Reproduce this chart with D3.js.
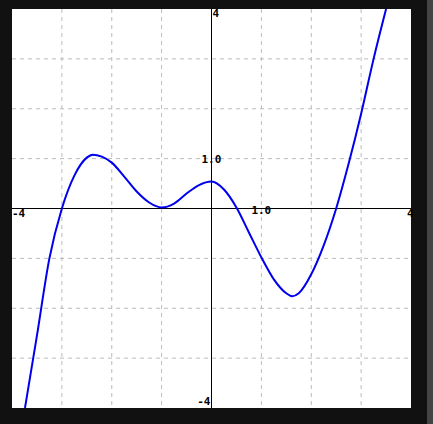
<!DOCTYPE html><html><head><script src="https://cdn.jsdelivr.net/npm/d3@7"></script>
<style>body{margin:0;background:#111}</style></head><body><svg id="c" width="433" height="424"></svg>
<script>
const xs=[-3.74,-3.5,-3.25,-3,-2.75,-2.5,-2.38,-2.2,-2,-1.75,-1.5,-1.25,-1,-0.75,-0.5,-0.25,0,0.25,0.5,0.75,1,1.25,1.5,1.62,1.75,2,2.25,2.5,2.75,3,3.25,3.5];
const ys=[-4,-2.55,-1.0,0,0.66,1.02,1.08,1.04,0.92,0.64,0.34,0.12,0.02,0.1,0.3,0.47,0.54,0.38,0.02,-0.48,-0.98,-1.42,-1.7,-1.76,-1.7,-1.32,-0.74,0,0.9,1.9,3.0,4];
const gridVals=[-3,-2,-1,1,2,3];
const svg=d3.select("#c");
svg.append("rect").attr("x",427).attr("y",0).attr("width",6).attr("height",424).attr("fill","#444");
const x=d3.scaleLinear().domain([-4,4]).range([12,411]);
const y=d3.scaleLinear().domain([-4,4]).range([408,9]);
svg.append("rect").attr("x",x(-4)).attr("y",y(4)).attr("width",x(4)-x(-4)).attr("height",y(-4)-y(4)).attr("fill","#fff");
const g=svg.append("g");
gridVals.forEach(v=>{
g.append("line").attr("x1",x(v)).attr("x2",x(v)).attr("y1",y(4)).attr("y2",y(-4)).attr("stroke","#bbb").attr("stroke-dasharray","4,4");
g.append("line").attr("y1",y(v)).attr("y2",y(v)).attr("x1",x(-4)).attr("x2",x(4)).attr("stroke","#bbb").attr("stroke-dasharray","4,4");});
g.append("line").attr("x1",x(0)).attr("x2",x(0)).attr("y1",y(4)).attr("y2",y(-4)).attr("stroke","#000");
g.append("line").attr("y1",y(0)).attr("y2",y(0)).attr("x1",x(-4)).attr("x2",x(4)).attr("stroke","#000");
const pts=xs.map((v,i)=>[v,ys[i]]);
g.append("path").attr("d",d3.line().x(d=>x(d[0])).y(d=>y(d[1])).curve(d3.curveMonotoneX)(pts)).attr("fill","none").attr("stroke","#0000ee").attr("stroke-width",2);
const t=(tx,ty,s,a)=>svg.append("text").attr("x",tx).attr("y",ty).text(s).attr("text-anchor",a||"start").attr("font-family","DejaVu Sans Mono").attr("font-weight","bold").attr("font-size",11).attr("fill","#000");
t(x(0)+1,y(4)+8,"4");
t(x(0)-1,y(-4)-3,"-4","end");
t(x(-4),y(0)+8,"-4");
t(x(4)-4,y(0)+8,"4");
t(x(1)-10,y(0)+5,"1.0");
t(x(0)-10,y(1)+4,"1.0");
</script></body></html>
